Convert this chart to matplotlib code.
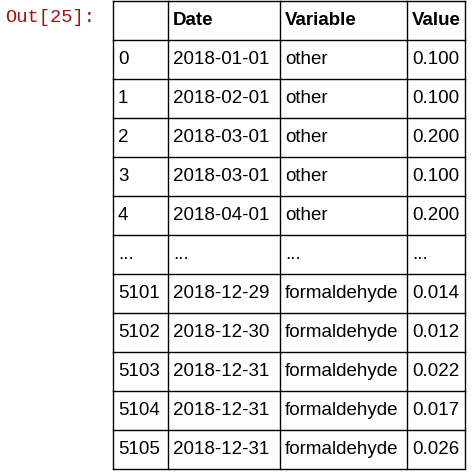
import matplotlib.pyplot as plt

# table contents
header = ["", "Date", "Variable", "Value"]
index = ["0", "1", "2", "3", "4", "...", "5101", "5102", "5103", "5104", "5105"]
dates = ["2018-01-01", "2018-02-01", "2018-03-01", "2018-03-01", "2018-04-01", "...",
         "2018-12-29", "2018-12-30", "2018-12-31", "2018-12-31", "2018-12-31"]
variables = ["other", "other", "other", "other", "other", "...",
             "formaldehyde", "formaldehyde", "formaldehyde", "formaldehyde", "formaldehyde"]
values = ["0.100", "0.100", "0.200", "0.100", "0.200", "...",
          "0.014", "0.012", "0.022", "0.017", "0.026"]

W, H = 474, 475
fig = plt.figure(figsize=(W / 100, H / 100), dpi=100)
ax = fig.add_axes([0, 0, 1, 1])
ax.set_xlim(0, W)
ax.set_ylim(H, 0)
ax.axis("off")

col_x = [113, 168, 280, 407, 465]
top, bottom = 1, 469
n_rows = len(index) + 1
row_h = (bottom - top) / n_rows

ax.text(5, 18, "Out[25]:", color="#a01010", family="Liberation Mono",
        fontsize=13.5, va="center", ha="left")

for x in col_x:
    ax.plot([x, x], [top, bottom], color="black", lw=1)
for r in range(n_rows + 1):
    y = top + r * row_h
    ax.plot([col_x[0], col_x[-1]], [y, y], color="black", lw=1)

rows = [header] + [list(t) for t in zip(index, dates, variables, values)]
for r, row in enumerate(rows):
    yc = top + (r + 0.5) * row_h
    for c, txt in enumerate(row):
        ax.text(col_x[c] + 5, yc, txt, fontsize=13.5, va="center", ha="left",
                family="Liberation Sans",
                fontweight="bold" if r == 0 else "normal")

fig.savefig("out.png", dpi=100)
